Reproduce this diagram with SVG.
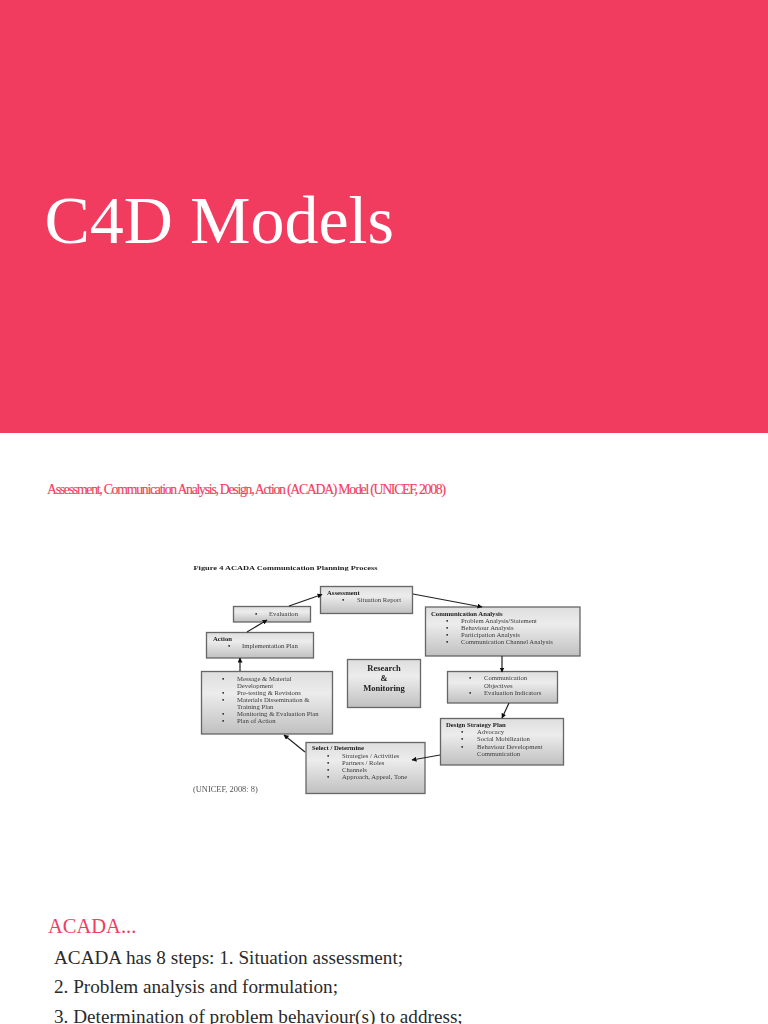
<svg xmlns="http://www.w3.org/2000/svg" width="768" height="1024" viewBox="0 0 768 1024">
<style>
text{font-family:"Liberation Serif","Times New Roman",serif}
.box{fill:url(#g);stroke:#666;stroke-width:1.300}
.t{font-size:6.700px;fill:#3c3c3c}
.d{font-size:6.700px;font-weight:bold;fill:#222}
.b{font-size:6.700px;font-weight:bold;fill:#1a1a1a}
.c{stroke:#222;stroke-width:1.200;fill:none;marker-end:url(#a)}
.body{font-size:19.200px;fill:#2a2a2a}
</style>
<defs>
<linearGradient id="g" x1="0" y1="0" x2="0" y2="1"><stop offset="0" stop-color="#dedede"/><stop offset="0.35" stop-color="#ececec"/><stop offset="1" stop-color="#c0c0c0"/></linearGradient>
<marker id="a" markerWidth="5" markerHeight="5" refX="4.500" refY="2.500" orient="auto" markerUnits="userSpaceOnUse"><path d="M0 0L5 2.500L0 5Z" fill="#111"/></marker>
<filter id="s" x="-5%" y="-5%" width="110%" height="110%"><feGaussianBlur stdDeviation="0.350"/></filter>
</defs>
<rect width="768" height="1024" fill="#fff"/>
<rect width="768" height="433" fill="#f23c5f"/>
<text x="44.500" y="243" font-size="68" fill="#fff">C4D Models</text>
<text x="47" y="494" font-size="13.800" fill="#f23d60" stroke="#f23d60" stroke-width="0.150" textLength="399" lengthAdjust="spacing">Assessment, Communication Analysis, Design, Action (ACADA) Model (UNICEF, 2008)</text>
<g filter="url(#s)">
<text x="193.500" y="570" font-size="7" font-weight="bold" fill="#222" textLength="184" lengthAdjust="spacingAndGlyphs">Figure 4 ACADA Communication Planning Process</text>
<g id="assessment"><rect class="box" x="320.500" y="586.500" width="92" height="27"/>
<text class="b" x="327" y="595">Assessment</text><text class="d" x="342" y="602">•</text><text class="t" x="357" y="602">Situation Report</text></g>
<g id="evaluation"><rect class="box" x="233.500" y="606.500" width="77" height="15.500"/>
<text class="d" x="255" y="616">•</text><text class="t" x="269" y="616">Evaluation</text></g>
<g id="action"><rect class="box" x="206.500" y="632.500" width="107" height="25.500"/>
<text class="b" x="213" y="641">Action</text><text class="d" x="228" y="648">•</text><text class="t" x="242" y="648">Implementation Plan</text></g>
<g id="materials"><rect class="box" x="201.500" y="671.500" width="131" height="62.500"/>
<text class="d" x="222" y="681">•</text><text class="t" x="237" y="681">Message &amp; Material</text><text class="t" x="237" y="688">Development</text>
<text class="d" x="222" y="695">•</text><text class="t" x="237" y="695">Pre-testing &amp; Revisions</text>
<text class="d" x="222" y="702">•</text><text class="t" x="237" y="702">Materials Dissemination &amp;</text><text class="t" x="237" y="709">Training Plan</text>
<text class="d" x="222" y="716">•</text><text class="t" x="237" y="716">Monitoring &amp; Evaluation Plan</text>
<text class="d" x="222" y="723">•</text><text class="t" x="237" y="723">Plan of Action</text></g>
<g id="research"><rect class="box" x="347.500" y="659.500" width="73" height="48"/>
<text x="384" y="671" text-anchor="middle" font-size="8.500" font-weight="bold" fill="#222">Research</text>
<text x="384" y="681" text-anchor="middle" font-size="8.500" font-weight="bold" fill="#222">&amp;</text>
<text x="384" y="691" text-anchor="middle" font-size="8.500" font-weight="bold" fill="#222">Monitoring</text></g>
<g id="analysis"><rect class="box" x="425.500" y="607" width="154.500" height="49"/>
<text class="b" x="431" y="616">Communication Analysis</text>
<text class="d" x="446" y="623">•</text><text class="t" x="461" y="623">Problem Analysis/Statement</text>
<text class="d" x="446" y="630">•</text><text class="t" x="461" y="630">Behaviour Analysis</text>
<text class="d" x="446" y="637">•</text><text class="t" x="461" y="637">Participation Analysis</text>
<text class="d" x="446" y="644">•</text><text class="t" x="461" y="644">Communication Channel Analysis</text></g>
<g id="objectives"><rect class="box" x="447.500" y="671.500" width="110" height="31.500"/>
<text class="d" x="469" y="680">•</text><text class="t" x="484" y="680">Communication</text><text class="t" x="484" y="688">Objectives</text>
<text class="d" x="469" y="695">•</text><text class="t" x="484" y="695">Evaluation Indicators</text></g>
<g id="design"><rect class="box" x="440.500" y="718.500" width="123" height="46.500"/>
<text class="b" x="446" y="727">Design Strategy Plan</text>
<text class="d" x="461" y="734">•</text><text class="t" x="477" y="734">Advocacy</text>
<text class="d" x="461" y="741">•</text><text class="t" x="477" y="741">Social Mobilization</text>
<text class="d" x="461" y="749">•</text><text class="t" x="477" y="749">Behaviour Development</text><text class="t" x="477" y="756">Communication</text></g>
<g id="select"><rect class="box" x="306" y="742.500" width="119" height="51"/>
<text class="b" x="312" y="750">Select / Determine</text>
<text class="d" x="327" y="758">•</text><text class="t" x="342" y="758">Strategies / Activities</text>
<text class="d" x="327" y="765">•</text><text class="t" x="342" y="765">Partners / Roles</text>
<text class="d" x="327" y="772">•</text><text class="t" x="342" y="772">Channels</text>
<text class="d" x="327" y="779">•</text><text class="t" x="342" y="779">Approach, Appeal, Tone</text></g>
<g id="connectors">
<path class="c" d="M289 606L322 594.500"/>
<path class="c" d="M247 632L267 620"/>
<path class="c" d="M240 671V658"/>
<path class="c" d="M413 594L482 607"/>
<path class="c" d="M502 656V672"/>
<path class="c" d="M509 703L502 718"/>
<path class="c" d="M440 755L412 760"/>
<path class="c" d="M305 752L284 735"/>
</g>
<text x="193" y="792" font-size="8.400" fill="#555">(UNICEF, 2008: 8)</text>
</g>
<text x="48" y="933" font-size="20.500" fill="#f23d60">ACADA...</text>
<text class="body" x="54" y="964">ACADA has 8 steps: 1. Situation assessment;</text>
<text class="body" x="54" y="993">2. Problem analysis and formulation;</text>
<text class="body" x="54" y="1023">3. Determination of problem behaviour(s) to address;</text>
</svg>
